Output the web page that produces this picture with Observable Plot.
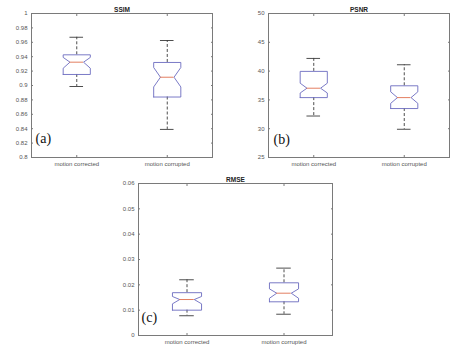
<!DOCTYPE html>
<html><head><meta charset="utf-8">
<script src="https://cdn.jsdelivr.net/npm/d3@7"></script>
<script src="https://cdn.jsdelivr.net/npm/@observablehq/plot@0.6"></script>
<style>
body{margin:0;background:#fff;}
#wrap{position:relative;width:474px;height:356px;overflow:hidden;background:#fff;}
#wrap > svg{position:absolute;}
</style></head><body><div id="wrap"></div>
<script>
const categories = ["motion corrected", "motion corrupted"];

const ssimTicks = [0.8, 0.82, 0.84, 0.86, 0.88, 0.9, 0.92, 0.94, 0.96, 0.98, 1];
const ssimWhiskerTop = [0.967, 0.9625];
const ssimQ3 = [0.9426, 0.932];
const ssimNotchTop = [0.939, 0.925];
const ssimMedian = [0.9324, 0.9115];
const ssimNotchBottom = [0.924, 0.898];
const ssimQ1 = [0.9153, 0.884];
const ssimWhiskerBottom = [0.8986, 0.839];

const psnrTicks = [25, 30, 35, 40, 45, 50];
const psnrWhiskerTop = [42.2, 41.1];
const psnrQ3 = [39.95, 37.45];
const psnrNotchTop = [37.9, 36.4];
const psnrMedian = [37.03, 35.4];
const psnrNotchBottom = [36.2, 34.4];
const psnrQ1 = [35.4, 33.5];
const psnrWhiskerBottom = [32.2, 29.9];

const rmseTicks = [0, 0.01, 0.02, 0.03, 0.04, 0.05, 0.06];
const rmseWhiskerTop = [0.022, 0.0266];
const rmseQ3 = [0.0169, 0.0208];
const rmseNotchTop = [0.0154, 0.0184];
const rmseMedian = [0.0142, 0.0167];
const rmseNotchBottom = [0.0125, 0.0147];
const rmseQ1 = [0.0100, 0.0133];
const rmseWhiskerBottom = [0.0078, 0.0084];

const BOX = "#6b6bbf", MED = "#e0704f", WHISK = "#3a3a3a", FRAME = "#7a7a7a", TEXT = "#555";
const HW = 0.15, NW = 0.075, CW = 0.075;

function panel(o) {
  const stats = categories.map((c, i) => ({
    cat: c, pos: i + 1,
    top: o.whiskerTop[i], q3: o.q3[i], nTop: o.notchTop[i], med: o.median[i],
    nBot: o.notchBottom[i], q1: o.q1[i], bot: o.whiskerBottom[i]
  }));
  const outline = stats.flatMap(s => [
    [s.pos - HW, s.q1], [s.pos - HW, s.nBot], [s.pos - NW, s.med], [s.pos - HW, s.nTop],
    [s.pos - HW, s.q3], [s.pos + HW, s.q3], [s.pos + HW, s.nTop], [s.pos + NW, s.med],
    [s.pos + HW, s.nBot], [s.pos + HW, s.q1], [s.pos - HW, s.q1]
  ].map(([x, y]) => ({x, y, cat: s.cat})));
  const positions = stats.map(s => s.pos);
  const fmt = d => String(d);
  const chart = Plot.plot({
    width: o.width, height: o.height,
    marginLeft: o.ml, marginRight: o.mr, marginTop: o.mt, marginBottom: o.mb,
    style: {fontFamily: "Liberation Sans, Arial, sans-serif", fontSize: "6px", color: TEXT, background: "white", overflow: "visible"},
    x: {domain: [0.5, 2.5], label: null},
    y: {domain: o.domain, label: null},
    marks: [
      Plot.frame({stroke: FRAME}),
      Plot.axisY(o.ticks, {anchor: "left", tickSize: 0, tickPadding: 4, tickFormat: fmt, label: null, fill: TEXT}),
      Plot.axisY(o.ticks, {anchor: "left", tickSize: -2, tickFormat: () => "", label: null, stroke: FRAME}),
      Plot.axisY(o.ticks, {anchor: "right", tickSize: -2, tickFormat: () => "", label: null, stroke: FRAME}),
      Plot.axisX(positions, {anchor: "bottom", tickSize: 0, tickPadding: 4, tickFormat: d => categories[d - 1], label: null, fill: TEXT}),
      Plot.axisX(positions, {anchor: "bottom", tickSize: -2, tickFormat: () => "", label: null, stroke: FRAME}),
      Plot.axisX(positions, {anchor: "top", tickSize: -2, tickFormat: () => "", label: null, stroke: FRAME}),
      Plot.ruleX(stats, {x: "pos", y1: "q3", y2: "top", stroke: WHISK, strokeDasharray: "3,2", strokeWidth: 0.9}),
      Plot.ruleX(stats, {x: "pos", y1: "q1", y2: "bot", stroke: WHISK, strokeDasharray: "3,2", strokeWidth: 0.9}),
      Plot.ruleY(stats, {y: "top", x1: d => d.pos - CW, x2: d => d.pos + CW, stroke: WHISK, strokeWidth: 0.9}),
      Plot.ruleY(stats, {y: "bot", x1: d => d.pos - CW, x2: d => d.pos + CW, stroke: WHISK, strokeWidth: 0.9}),
      Plot.line(outline, {x: "x", y: "y", z: "cat", stroke: BOX, strokeWidth: 0.9, curve: "linear"}),
      Plot.ruleY(stats, {y: "med", x1: d => d.pos - NW, x2: d => d.pos + NW, stroke: MED, strokeWidth: 0.9}),
      Plot.text([o.title], {frameAnchor: "top", dy: -6, fontWeight: "bold", fontSize: 6.5, fill: "#222"}),
      Plot.text([o.label], {frameAnchor: "bottom-left", dx: o.ldx, dy: o.ldy, textAnchor: "start", fontFamily: "Liberation Serif, serif", fontSize: 14, fill: "#111"})
    ]
  });
  chart.style.left = o.left + "px";
  chart.style.top = o.top + "px";
  document.getElementById("wrap").appendChild(chart);
}

panel({title: "SSIM", label: "(a)", ticks: ssimTicks, domain: [0.8, 1],
  whiskerTop: ssimWhiskerTop, q3: ssimQ3, notchTop: ssimNotchTop, median: ssimMedian,
  notchBottom: ssimNotchBottom, q1: ssimQ1, whiskerBottom: ssimWhiskerBottom,
  width: 237, height: 172, ml: 31, mr: 25, mt: 13, mb: 15, left: 0, top: 0, ldx: 4, ldy: -15});

panel({title: "PSNR", label: "(b)", ticks: psnrTicks, domain: [25, 50],
  whiskerTop: psnrWhiskerTop, q3: psnrQ3, notchTop: psnrNotchTop, median: psnrMedian,
  notchBottom: psnrNotchBottom, q1: psnrQ1, whiskerBottom: psnrWhiskerBottom,
  width: 237, height: 172, ml: 31, mr: 25, mt: 13, mb: 15, left: 237, top: 0, ldx: 5, ldy: -14});

panel({title: "RMSE", label: "(c)", ticks: rmseTicks, domain: [0, 0.06],
  whiskerTop: rmseWhiskerTop, q3: rmseQ3, notchTop: rmseNotchTop, median: rmseMedian,
  notchBottom: rmseNotchBottom, q1: rmseQ1, whiskerBottom: rmseWhiskerBottom,
  width: 250, height: 186, ml: 38, mr: 18, mt: 13, mb: 21, left: 100, top: 170, ldx: 3, ldy: -14});
</script></body></html>
